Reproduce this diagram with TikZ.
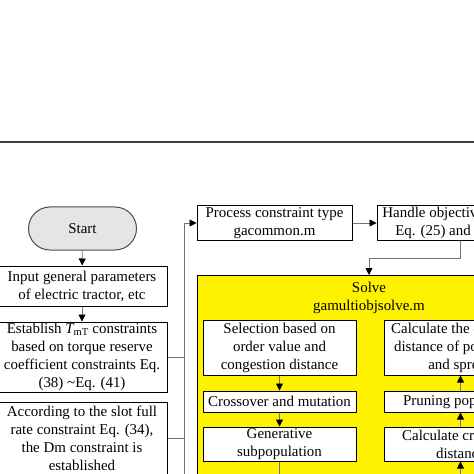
\documentclass[tikz,border=0pt]{standalone}
\usepackage{fontspec}
\setmainfont{Liberation Serif}
\usetikzlibrary{arrows.meta}

\begin{document}
\begin{tikzpicture}[x=1bp,y=-1bp,
  box/.style={draw=black,line width=1bp,fill=white,align=center,inner sep=0pt,font=\fontsize{15}{18}\selectfont},
  link/.style={draw=black!55,line width=0.8bp},
  arr/.style={link,-{Triangle[length=7bp,width=7bp,color=black]}}]
  \useasboundingbox (0,0) rectangle (474,474);
  \clip (0,0) rectangle (474,474);
  \draw[line width=2bp,black!75] (-5,142.5)--(480,142.5);
  % left column
  \node[box,fill=black!10,draw=black!70,rounded corners=21.5bp,minimum width=108bp,minimum height=43bp] (start) at (82.5,228.5) {Start};
  \node[box,minimum width=170bp,minimum height=40bp] (input) at (82,286) {Input general parameters\\of electric tractor, etc};
  \node[box,minimum width=170bp,minimum height=70bp] (est) at (82,357) {Establish {\itshape T}\textsubscript{mT} constraints\\based on torque reserve\\coefficient constraints Eq.\\(38) \textasciitilde Eq. (41)};
  \node[box,minimum width=170bp,minimum height=72bp] (acc) at (82,438) {According to the slot full\\rate constraint Eq. (34),\\the Dm constraint is\\established};
  \draw[arr] (start)--(input);
  \draw[arr] (input)--(est);
  % top row
  \node[box,minimum width=155bp,minimum height=34bp] (proc) at (274.5,223) {Process constraint type\\gacommon.m};
  \node[box,minimum width=166bp,minimum height=34bp] (hand) at (460,223) {Handle objective function\\Eq. (25) and Eq. (26)};
  \draw[arr] (proc)--(hand);
  \coordinate (loopend) at (184,490);
  \draw[arr] (loopend) |- (proc.west);
  \draw[link] (est.east)--(est.east -| loopend);
  \draw[link] (acc.east)--(acc.east -| loopend);
  % solver block
  \node[draw=black,line width=1bp,fill=yellow,minimum width=344bp,minimum height=260bp,anchor=north] (solve) at (369,275) {};
  \node[align=center,font=\fontsize{15}{18}\selectfont,inner sep=0pt] (solvetitle) at (369,298) {Solve\\gamultiobjsolve.m};
  \coordinate (bend) at (369,258);
  \draw[arr] (hand.south) |- (bend)--(solve.north);
  \node[box,minimum width=153bp,minimum height=55bp] (sel) at (279.5,347.5) {Selection based on\\order value and\\congestion distance};
  \node[box,minimum width=153bp,minimum height=21bp] (cross) at (279.5,401.5) {Crossover and mutation};
  \node[box,minimum width=153bp,minimum height=34bp] (gen) at (279.5,444) {Generative\\subpopulation};
  \node[box,minimum width=153bp,minimum height=55bp] (calc) at (460.5,347.5) {Calculate the crowding\\distance of population\\and spread};
  \node[box,minimum width=153bp,minimum height=21bp] (prune) at (460.5,401.5) {Pruning population};
  \node[box,minimum width=153bp,minimum height=34bp] (crowd) at (460.5,444) {Calculate crowding\\distance};
  \coordinate (genout) at (279.5,490);
  \coordinate (crowdin) at (460.5,490);
  \draw[arr] (sel)--(cross);
  \draw[arr] (cross)--(gen);
  \draw[arr] (gen)--(genout);
  \draw[arr] (crowdin)--(crowd);
  \draw[arr] (crowd)--(prune);
  \draw[arr] (prune)--(calc);
\end{tikzpicture}
\end{document}
